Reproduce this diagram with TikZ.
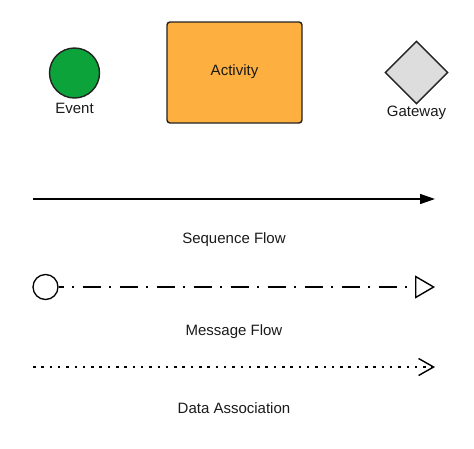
\documentclass[tikz,border=0pt]{standalone}
\usepackage{fontspec}
\setmainfont{Liberation Sans}
\usetikzlibrary{arrows.meta,shapes.geometric}
\definecolor{evgreen}{HTML}{0BA33A}
\definecolor{actorange}{HTML}{FDB03F}
\definecolor{gwgray}{HTML}{DDDDDD}
\definecolor{edge}{HTML}{222222}
\definecolor{txt}{HTML}{1A1A1A}
\tikzset{
  lbl/.style={font=\fontsize{15}{18}\selectfont, text=txt, inner sep=0pt},
  shp/.style={draw=edge, line width=1.4pt},
  flow/.style={line width=1.5pt, draw=black},
}
\begin{document}
\begin{tikzpicture}[x=1pt,y=-1pt]
\useasboundingbox (0,0) rectangle (474,448);
% Event
\node[shp, circle, fill=evgreen, minimum size=50pt, inner sep=0pt] (ev) at (74.5,73) {};
\node[lbl] (evl) at (74.5,108) {Event};
% Activity
\node[shp, rectangle, rounded corners=3pt, fill=actorange, minimum width=135pt, minimum height=101pt, inner sep=0pt] (act) at (234.5,72.5) {};
\node[lbl] (actl) at (234.5,72) {Activity};
% Gateway
\node[shp, diamond, fill=gwgray, minimum width=63pt, minimum height=63pt, inner sep=0pt] (gw) at (416.5,72.5) {};
\node[lbl] (gwl) at (416.5,113) {Gateway};
% Sequence flow
\coordinate (s1) at (33,199);
\coordinate (s2) at (435,199);
\draw[flow, -{Triangle[length=15pt,width=10pt]}] (s1) -- (s2);
\node[lbl] (sl) at (234,240) {Sequence Flow};
% Message flow
\node[draw=black, line width=1.3pt, circle, fill=white, minimum size=25pt, inner sep=0pt] (mc) at (45.5,287) {};
\coordinate (m2) at (435,287);
\draw[flow, dash pattern=on 18pt off 8.5pt on 2pt off 8.5pt, dash phase=13pt,
  -{Triangle[open,length=20pt,width=23pt,line width=1.4pt]}] (mc.east) -- (m2);
\node[lbl] (ml) at (234,332) {Message Flow};
% Data association
\coordinate (d1) at (33,367);
\coordinate (d2) at (435,367);
\draw[flow, line width=1.4pt, dash pattern=on 2.5pt off 5.8pt, -{Straight Barb[length=15pt,width=17pt,line width=1.4pt]}] (d1) -- (d2);
\node[lbl] (dl) at (234,408) {Data Association};
\end{tikzpicture}
\end{document}
